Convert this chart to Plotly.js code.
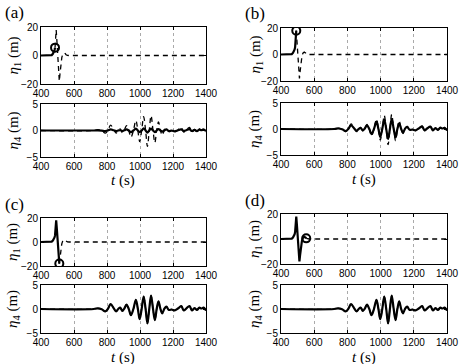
<!DOCTYPE html>
<html>
<head>
<meta charset="utf-8">
<script src="https://cdn.plot.ly/plotly-3.0.1.min.js"></script>
<style>html,body{margin:0;padding:0;background:#fff;}#chart{width:474px;height:364px;}</style>
</head>
<body>
<div id="chart"></div>
<script>
// ---- data ----
const panelLabels = ['(a)', '(b)', '(c)', '(d)'];
const xTicks = [400, 600, 800, 1000, 1200, 1400];
const eta1Ticks = [-20, 0, 20];
const eta4Ticks = [-5, 0, 5];

// eta1 pulse (full record, shown dashed after the current time)
const t1 = [400, 455, 465, 472, 478, 482, 485, 488, 492, 496, 500, 504, 508, 511, 515, 520, 526, 532, 540, 548, 552, 560, 570, 1400];
const eta1 = [0, 0, 0.3, 1.2, 2.5, 3.8, 5.5, 10, 18, 11, 1, -10, -17, -18, -13, -6, -1.5, 1, 1.8, 1.2, 0.5, 0.1, 0, 0];
// current time of each panel (circle marker)
const tNow = [485, 492, 511, 552];

// eta4 record
const t4 = [400, 720, 745, 768, 790, 805, 822, 840, 855, 868, 880, 893, 905, 918, 932, 945, 960, 975, 987, 998, 1010, 1022, 1034, 1045, 1056, 1067, 1079, 1090, 1101, 1112, 1124, 1135, 1148, 1160, 1175, 1192, 1210, 1230, 1250, 1265, 1280, 1300, 1315, 1330, 1345, 1360, 1372, 1385, 1400];
const eta4Full = [0, 0, 0.15, -0.05, -0.5, 0, 1.0, 0.2, -0.5, 0, 0.3, -0.4, 0.1, 0.9, 0, -1.3, 0, 1.9, 0, -2.1, 0, 2.6, 0, -3.0, 0, 2.8, 0, -2.3, 0, 1.6, 0, -0.9, 0.1, 0.5, -0.2, -0.1, -0.3, 0.1, 0.6, -0.3, 0.1, 0.6, -0.3, 0.2, -0.2, 0.3, 0.1, 0.3, -0.3];
const eta4A = [0, 0, 0.02, -0.02, -0.1, 0, 0.2, 0.05, -0.1, 0, 0.05, -0.1, 0.03, 0.2, 0, -0.3, 0, 0.35, 0, -0.3, 0, 0.4, 0, -0.4, 0, 0.35, 0, -0.3, 0, 0.25, 0, -0.2, 0.05, 0.2, -0.1, 0, -0.15, 0.05, 0.2, -0.1, 0.05, 0.25, -0.1, 0.1, -0.1, 0.15, 0.05, 0.15, -0.1];
const eta4B = [0, 0, 0.1, -0.05, -0.4, 0, 0.7, 0.15, -0.35, 0, 0.2, -0.3, 0.1, 0.7, 0, -1.0, 0, 1.4, 0, -1.5, 0, 1.8, 0, -1.9, 0, 1.9, 0, -1.6, 0, 1.1, 0, -0.7, 0.1, 0.4, -0.15, -0.1, -0.25, 0.1, 0.45, -0.25, 0.1, 0.45, -0.25, 0.15, -0.15, 0.25, 0.1, 0.2, -0.25];
const eta4Solid = [eta4A, eta4B, eta4Full, eta4Full];

// ---- layout geometry (pixels) ----
const W = 474, H = 364;
const topRows = [[27, 84], [28, 81], [218, 266], [214, 264]];
const botRows = [[104, 157], [103, 155], [285, 333], [285, 333]];
const xcol = [[41, 206], [281, 447], [41, 206], [281, 447]];
const tLabelY = [180, 179, 357, 357];
const yLabelX = [13, 255, 13, 255];

const traces = [];
const layout = {
  width: W, height: H, margin: {l: 0, r: 0, t: 0, b: 0},
  paper_bgcolor: '#fff', plot_bgcolor: '#fff', showlegend: false,
  font: {family: 'Liberation Sans, Arial, sans-serif', size: 10, color: '#000'},
  annotations: []
};

function xAxis(i, anchor) {
  const c = xcol[i];
  return {
    domain: [c[0] / W, c[1] / W], range: [400, 1400], anchor: anchor,
    tickvals: xTicks, ticks: 'inside', ticklen: 3, tickcolor: '#000',
    showline: true, mirror: 'ticks', linecolor: '#000', linewidth: 1,
    showgrid: true, gridcolor: '#aaa', griddash: 'dot', gridwidth: 1,
    zeroline: false, tickfont: {size: 10}
  };
}
function yAxis(row, range, ticks, anchor) {
  return {
    domain: [1 - row[1] / H, 1 - row[0] / H], range: range, anchor: anchor,
    tickvals: ticks, ticks: 'inside', ticklen: 3, tickcolor: '#000',
    showline: true, mirror: 'ticks', linecolor: '#000', linewidth: 1,
    showgrid: false, zeroline: false, tickfont: {size: 10}
  };
}

const serifFam = 'Liberation Serif, DejaVu Serif, serif';
const serif = {family: serifFam, size: 15, color: '#000'};

for (let p = 0; p < 4; p++) {
  const nTop = 2 * p + 1, nBot = 2 * p + 2;
  const xa = 'x' + nTop, ya = 'y' + nTop, xb = 'x' + nBot, yb = 'y' + nBot;
  layout['xaxis' + nTop] = xAxis(p, ya);
  layout['yaxis' + nTop] = yAxis(topRows[p], [-20, 20], eta1Ticks, xa);
  layout['xaxis' + nBot] = xAxis(p, yb);
  layout['yaxis' + nBot] = yAxis(botRows[p], [-5, 5], eta4Ticks, xb);

  // top: dashed future, solid past, circle at current time
  const tn = tNow[p];
  const idxNow = t1.indexOf(tn);
  const pastT = t1.slice(0, idxNow + 1), pastV = eta1.slice(0, idxNow + 1);
  const futT = t1.slice(idxNow), futV = eta1.slice(idxNow);
  traces.push({x: futT, y: futV, xaxis: xa, yaxis: ya, mode: 'lines',
    line: {color: '#000', width: 1.3, dash: '5px,4px'}});
  traces.push({x: pastT, y: pastV, xaxis: xa, yaxis: ya, mode: 'lines',
    line: {color: '#000', width: 2.2}});
  traces.push({x: [t1[idxNow]], y: [eta1[idxNow]], xaxis: xa, yaxis: ya, mode: 'markers',
    marker: {symbol: 'circle-open', size: 8, color: '#000', line: {width: 2, color: '#000'}}});

  // bottom: dashed full, solid estimate
  traces.push({x: t4, y: eta4Full, xaxis: xb, yaxis: yb, mode: 'lines',
    line: {color: '#000', width: 1.3, dash: '5px,4px', shape: 'spline', smoothing: 1}});
  traces.push({x: t4, y: eta4Solid[p], xaxis: xb, yaxis: yb, mode: 'lines',
    line: {color: '#000', width: 2.2, shape: 'spline', smoothing: 1}});

  const c = xcol[p];
  const tr = topRows[p], br = botRows[p];
  layout.annotations.push({xref: 'paper', yref: 'paper', x: yLabelX[p] / W, y: 1 - (tr[0] + tr[1]) / 2 / H,
    text: '<i>η</i><sub>1</sub> (m)', textangle: -90, showarrow: false, font: serif, xanchor: 'center', yanchor: 'middle'});
  layout.annotations.push({xref: 'paper', yref: 'paper', x: yLabelX[p] / W, y: 1 - (br[0] + br[1]) / 2 / H,
    text: '<i>η</i><sub>4</sub> (m)', textangle: -90, showarrow: false, font: serif, xanchor: 'center', yanchor: 'middle'});
  layout.annotations.push({xref: 'paper', yref: 'paper', x: (c[0] + c[1]) / 2 / W, y: 1 - tLabelY[p] / H,
    text: '<i>t</i> (s)', showarrow: false, font: {family: serifFam, size: 15, color: '#000'}, xanchor: 'center', yanchor: 'middle'});
  layout.annotations.push({xref: 'paper', yref: 'paper', x: (c[0] - 38) / W, y: 1 - (tr[0] - 14) / H,
    text: panelLabels[p], showarrow: false, font: {family: serifFam, size: 17, color: '#000'}, xanchor: 'left', yanchor: 'middle'});
}

Plotly.newPlot('chart', traces, layout, {staticPlot: true, displayModeBar: false});
</script>
</body>
</html>
